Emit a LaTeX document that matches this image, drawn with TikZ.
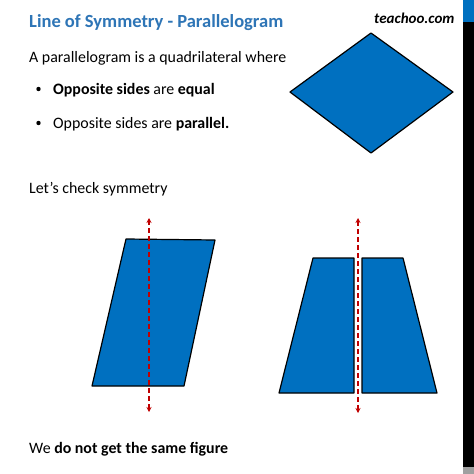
\documentclass[tikz,border=0pt]{standalone}
\usepackage{fontspec}
\setmainfont{Carlito}
\usetikzlibrary{arrows.meta}
\definecolor{shapeblue}{HTML}{0070C0}
\definecolor{titleblue}{HTML}{2E75B6}
\definecolor{arrowred}{HTML}{C00000}
\definecolor{bargray}{HTML}{A0A0A0}
\tikzset{
  shapefill/.style={fill=shapeblue, draw=black, line width=1.2pt, line join=round},
  symline/.style={draw=arrowred, line width=1.5pt, dash pattern=on 5pt off 3pt, {Stealth[length=5pt,width=5pt]}-{Stealth[length=5pt,width=5pt]}},
  bodytext/.style={anchor=base west, inner sep=0pt, font=\fontsize{15.9}{18}\selectfont},
  bulletdot/.style={circle, fill=black, inner sep=0pt, minimum size=4.4pt},
}
\begin{document}
\begin{tikzpicture}[x=1pt,y=-1pt]
\fill[white] (0,0) rectangle (474,474);
% right side bar
\fill[shapeblue] (463,0) rectangle (474,22);
\fill[black] (463,22) rectangle (474,467);
\fill[bargray] (463,467) rectangle (474,474);
% title
\node[anchor=base west, inner sep=0pt, text=titleblue, font=\fontsize{18.5}{22}\selectfont\bfseries] (title) at (29,27) {Line of Symmetry - Parallelogram};
\node[anchor=base west, inner sep=0pt, font=\fontsize{15}{18}\selectfont\bfseries\itshape] (logo) at (374,23) {teachoo.com};
% texts
\node[bodytext] (intro) at (29,62) {A parallelogram is a quadrilateral where};
\node[bulletdot] (b1dot) at (38.5,89) {};
\node[bodytext] (b1) at (53,94) {\textbf{Opposite sides} are \textbf{equal}};
\node[bulletdot] (b2dot) at (38.5,123) {};
\node[bodytext] (b2) at (53,128) {Opposite sides are \textbf{parallel.}};
\node[bodytext] (check) at (29,193) {Let’s check symmetry};
\node[bodytext] (concl) at (29,453) {We \textbf{do not get the same figure}};
% diamond
\path[shapefill] (371,33) -- (453,92) -- (371,153) -- (290,92) -- cycle;
% left parallelogram
\path[shapefill] (126,239) -- (215,240) -- (184,386) -- (92,386) -- cycle;
\coordinate (la) at (149,218);
\coordinate (lb) at (149,412);
\draw[symline] (lb) -- (la);
% right split figure
\path[shapefill] (313,258) -- (354,258) -- (354,393) -- (279,393) -- cycle;
\path[shapefill] (362,258) -- (403,258) -- (437,393) -- (362,393) -- cycle;
\coordinate (ra) at (358,218);
\coordinate (rb) at (358,413);
\draw[symline] (rb) -- (ra);
\useasboundingbox (0,0) rectangle (474,474);
\end{tikzpicture}
\end{document}
